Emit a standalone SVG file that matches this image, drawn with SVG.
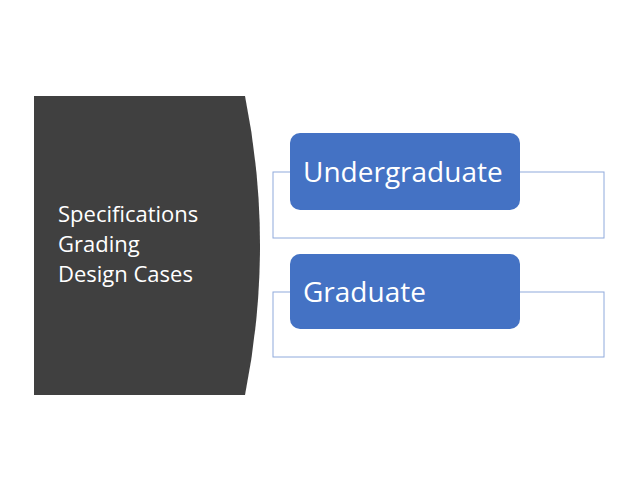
<svg xmlns="http://www.w3.org/2000/svg" width="638" height="493" viewBox="0 0 638 493">
<style>
.frame{fill:none;stroke:#8FAADC;stroke-width:1}
.pill{fill:#4472C4}
.lbl{font-family:"Open Sans","Liberation Sans",sans-serif;font-size:28px;fill:#fff}
.side{font-family:"Open Sans","Liberation Sans",sans-serif;font-size:22px;fill:#fff}
</style>
<rect width="638" height="493" fill="#fff"/>
<g id="title">
<path d="M34,96 L245,96 Q275,245 245,395 L34,395 Z" fill="#404040"/>
<text class="side" x="58" y="222">Specifications</text>
<text class="side" x="58" y="252">Grading</text>
<text class="side" x="58" y="282">Design Cases</text>
</g>
<g id="connectors">
<rect class="frame" x="273" y="172" width="331" height="66"/>
<rect class="frame" x="273" y="292" width="331" height="65"/>
</g>
<g id="undergraduate">
<rect class="pill" x="290" y="133" width="230" height="77" rx="10"/>
<text class="lbl" x="303" y="182">Undergraduate</text>
</g>
<g id="graduate">
<rect class="pill" x="290" y="254" width="230" height="75" rx="10"/>
<text class="lbl" x="303" y="302">Graduate</text>
</g>
</svg>
